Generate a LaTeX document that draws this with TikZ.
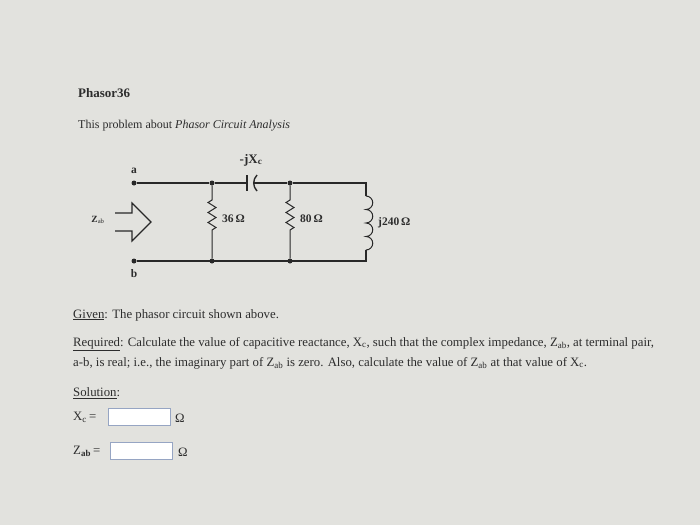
\documentclass[tikz,border=0pt]{standalone}
\usepackage{fontspec}
\setmainfont{Liberation Serif}
\definecolor{bg}{RGB}{226,226,222}
\definecolor{txt}{RGB}{45,45,45}
\definecolor{wire}{RGB}{40,40,40}
\definecolor{boxc}{RGB}{150,165,195}
\tikzset{
  w/.style={line width=1.4pt,draw=wire},
  dot/.style={circle,fill=wire,inner sep=0pt,minimum size=5pt},
  lab/.style={font=\fontsize{11.5}{13}\selectfont\bfseries,text=txt,inner sep=0pt},
  body/.style={font=\fontsize{12.8}{15}\selectfont,text=txt,inner sep=0pt,anchor=west},
  ansbox/.style={draw=boxc,fill=white,line width=0.8pt,minimum width=62pt,minimum height=17pt,inner sep=0pt}
}
\begin{document}
\begin{tikzpicture}[x=1pt,y=-1pt]
\fill[bg] (0,0) rectangle (700,525);
\useasboundingbox (0,0) rectangle (700,525);
\node[body,font=\fontsize{13}{15}\selectfont\bfseries] (t) at (78,93) {Phasor36};
\node[body,font=\fontsize{12}{14}\selectfont] (s) at (78,126) {This problem about \textit{Phasor Circuit Analysis}};
% circuit nodes
\node[dot] (a) at (134,183) {};
\node[dot] (b) at (134,261) {};
\node[dot] (n1) at (212,183) {};
\node[dot] (n2) at (290,183) {};
\node[dot] (m1) at (212,261) {};
\node[dot] (m2) at (290,261) {};
\coordinate (c1) at (247,183);
\coordinate (c2) at (254,183);
\coordinate (tr) at (366,183);
\coordinate (br) at (366,261);
\coordinate (l1) at (366,196);
\coordinate (l2) at (366,250);
\node[lab] at (134,171) {a};
\node[lab] at (134,274) {b};
\draw[w] (a) -- (n1) -- (c1);
\draw[w] (c1) ++(0,-8) -- ++(0,16);
\draw[w] (c2) ++(3,8) arc[start angle=135,end angle=225,radius=11.3];
\draw[w] (c2) -- (n2) -- (tr) -- (l1);
\draw[w] (b) -- (br) -- (l2);
\node[lab,font=\fontsize{13}{15}\selectfont\bfseries] at (251,160) {-jX$_{\mathbf{c}}$};
% resistors
\foreach \n/\m/\v in {n1/m1/36,n2/m2/80}{
  \draw[w,line width=1pt] (\n) -- ++(0,17) -- ++(-4,2.5) -- ++(8,5) -- ++(-8,5) -- ++(8,5) -- ++(-8,5) -- ++(8,5) -- ++(-4,2.5) -- (\m);
  \path (\n) ++(10,36) node[lab,anchor=west] {\v\,Ω};
}
% inductor
\draw[w,line width=1pt] (l1) \foreach \i in {0,1,2,3}{ arc[start angle=-90,end angle=90,radius=6.75] } ;
\node[lab,anchor=west] at (378,223) {j240\,Ω};
% arrow
\draw[wire,line width=1.1pt] (115,213) -- (132,213) -- (132,203) -- (151,222) -- (132,241) -- (132,231) -- (115,231);
\node[lab,font=\fontsize{9.5}{11}\selectfont\bfseries] (z) at (98,220) {Z$_{\mathrm{ab}}$};
% text
\node[body] (g) at (73,315) {\underline{Given}: The phasor circuit shown above.};
\node[body] (r1) at (73,344) {\underline{Required}: Calculate the value of capacitive reactance, X$_{\mathrm{c}}$, such that the complex impedance, Z$_{\mathrm{ab}}$, at terminal pair,};
\node[body] (r2) at (73,363) {a-b, is real; i.e., the imaginary part of Z$_{\mathrm{ab}}$ is zero. Also, calculate the value of Z$_{\mathrm{ab}}$ at that value of X$_{\mathrm{c}}$.};
\node[body] (so) at (73,393) {\underline{Solution}:};
\node[body] (x) at (73,417) {X$_{\mathrm{c}}$\,=};
\node[ansbox] (bx) at (139,417) {};
\node[body] at (175,418) {Ω};
\node[body] (zz) at (73,451) {Z$_{\mathbf{ab}}$\,=};
\node[ansbox] (bz) at (141,451) {};
\node[body] at (178,452) {Ω};
\end{tikzpicture}
\end{document}
